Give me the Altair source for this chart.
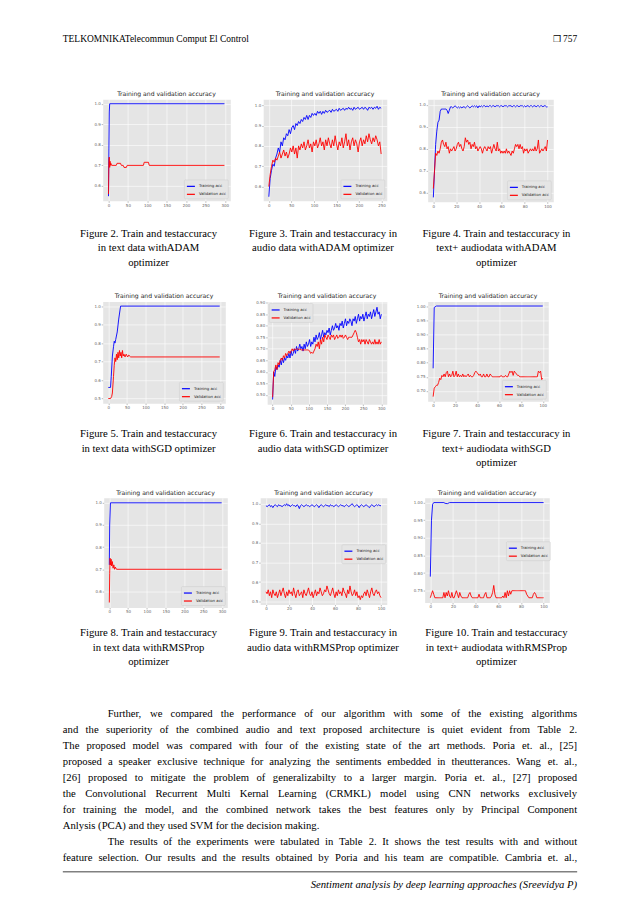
import altair as alt
import pandas as pd

# ------------------------------------------------------------------ data
SERIES = ["Training acc", "Validation acc"]
COLORS = ["#0000FF", "#FF0000"]

# Figure 2: text data, ADAM
fig2_train_epoch = [0, 1, 2, 3, 299]
fig2_train_acc = [0.55, 0.78, 0.96, 1.0, 1.0]
fig2_val_epoch = [0, 1, 2, 3, 4, 5, 6, 8, 20, 22, 31, 33, 38, 40, 46, 48, 90, 92, 103, 105, 299]
fig2_val_acc = [0.56, 0.72, 0.74, 0.69, 0.72, 0.70, 0.71, 0.70, 0.70, 0.71, 0.71, 0.70,
                0.70, 0.69, 0.69, 0.70, 0.70, 0.715, 0.715, 0.70, 0.70]

# Figure 3: audio data, ADAM (every 3rd epoch)
fig3_epoch = list(range(0, 250, 3))
fig3_train_acc = [0.55, 0.64, 0.68, 0.71, 0.70, 0.74, 0.76, 0.79, 0.77, 0.82,
                  0.80, 0.84, 0.83, 0.86, 0.85, 0.88, 0.86, 0.89, 0.90, 0.88,
                  0.91, 0.90, 0.92, 0.91, 0.93, 0.92, 0.94, 0.93, 0.95, 0.93,
                  0.95, 0.94, 0.96, 0.95, 0.96, 0.95, 0.97, 0.96, 0.97, 0.955,
                  0.97, 0.96, 0.975, 0.965, 0.97, 0.975, 0.965, 0.98, 0.97, 0.975,
                  0.98, 0.97, 0.985, 0.975, 0.98, 0.985, 0.975, 0.985, 0.98, 0.99,
                  0.98, 0.985, 0.975, 0.99, 0.98, 0.985, 0.99, 0.98, 0.985, 0.99,
                  0.98, 0.99, 0.985, 0.975, 0.99, 0.985, 0.99, 0.98, 0.99, 0.985,
                  0.995, 0.98, 0.99, 0.985]
fig3_val_acc = [0.60, 0.66, 0.70, 0.73, 0.72, 0.74, 0.73, 0.75, 0.77, 0.74,
                0.76, 0.78, 0.75, 0.77, 0.74, 0.76, 0.79, 0.77, 0.80, 0.76,
                0.79, 0.74, 0.80, 0.78, 0.81, 0.79, 0.82, 0.78, 0.80, 0.83,
                0.79, 0.81, 0.77, 0.82, 0.80, 0.83, 0.79, 0.81, 0.84, 0.80,
                0.82, 0.78, 0.83, 0.80, 0.84, 0.81, 0.79, 0.83, 0.80, 0.85,
                0.81, 0.78, 0.82, 0.80, 0.84, 0.79, 0.82, 0.86, 0.80, 0.83,
                0.78, 0.82, 0.84, 0.80, 0.83, 0.81, 0.77, 0.82, 0.84, 0.80,
                0.83, 0.81, 0.85, 0.82, 0.86, 0.83, 0.81, 0.84, 0.82, 0.85,
                0.83, 0.80, 0.82, 0.76]

# Figure 4: text + audio data, ADAM
fig4_epoch = list(range(0, 101))
fig4_train_acc = [0.58, 0.70, 0.82, 0.88, 0.92, 0.93, 0.97, 0.98, 0.98, 0.98,
                  0.98, 0.98, 0.975, 0.96, 0.975, 0.99, 0.99, 0.985, 0.99, 0.995,
                  0.99, 0.985, 0.99, 0.985, 0.99, 0.985, 0.99, 0.99, 0.985, 0.99,
                  0.995, 0.99, 0.985, 0.99, 0.995, 0.99, 0.995, 0.99, 0.995, 0.985,
                  0.995, 0.99, 0.995, 0.99, 0.995, 0.995, 0.99, 0.995, 0.99, 0.995,
                  0.995, 0.99, 0.995, 0.995, 0.99, 0.995, 0.995, 0.995, 0.99, 0.995,
                  0.995, 0.99, 0.995, 0.995, 0.995, 0.99, 0.995, 0.995, 0.995, 0.99,
                  0.995, 0.995, 0.99, 0.995, 0.995, 0.99, 0.995, 0.995, 0.995, 0.99,
                  0.995, 0.99, 0.995, 0.995, 0.99, 0.995, 0.995, 0.99, 0.995, 0.995,
                  0.99, 0.995, 0.995, 0.99, 0.995, 0.995, 0.99, 0.995, 0.995, 0.99,
                  0.99]
fig4_val_acc = [0.62, 0.70, 0.78, 0.77, 0.79, 0.78, 0.80, 0.83, 0.84, 0.82,
                0.81, 0.83, 0.80, 0.81, 0.78, 0.80, 0.79, 0.80, 0.81, 0.79,
                0.80, 0.82, 0.83, 0.81, 0.82, 0.80, 0.79, 0.81, 0.85, 0.83,
                0.84, 0.82, 0.83, 0.80, 0.82, 0.81, 0.83, 0.80, 0.81, 0.79,
                0.80, 0.81, 0.80, 0.78, 0.80, 0.81, 0.80, 0.79, 0.81, 0.80,
                0.81, 0.78, 0.80, 0.82, 0.80, 0.79, 0.83, 0.79, 0.80, 0.78,
                0.79, 0.78, 0.79, 0.78, 0.80, 0.78, 0.79, 0.78, 0.77, 0.79,
                0.78, 0.80, 0.82, 0.81, 0.82, 0.80, 0.82, 0.80, 0.81, 0.78,
                0.80, 0.79, 0.80, 0.78, 0.79, 0.80, 0.79, 0.80, 0.79, 0.81,
                0.79, 0.80, 0.84, 0.78, 0.79, 0.80, 0.79, 0.80, 0.81, 0.79,
                0.84]

# Figure 5: text data, SGD
fig5_train_epoch = [0, 6, 8, 11, 14, 16, 18, 20, 24, 28, 33, 299]
fig5_train_acc = [0.56, 0.56, 0.62, 0.73, 0.78, 0.81, 0.80, 0.82, 0.86, 0.93, 1.0, 1.0]
fig5_val_epoch = [0, 6, 9, 11, 14, 16, 18, 20, 22, 24, 26, 28, 30, 32, 34, 36, 38, 40,
                  42, 45, 48, 52, 55, 60, 299]
fig5_val_acc = [0.50, 0.50, 0.51, 0.53, 0.62, 0.68, 0.72, 0.70, 0.74, 0.71, 0.75, 0.72,
                0.76, 0.73, 0.75, 0.72, 0.76, 0.73, 0.74, 0.725, 0.74, 0.725, 0.735,
                0.725, 0.725]

# Figure 6: audio data, SGD (every 3rd epoch)
fig6_epoch = list(range(0, 301, 3))
fig6_train_acc = [0.48, 0.60, 0.58, 0.62, 0.61, 0.63, 0.62, 0.65, 0.63, 0.66,
                  0.64, 0.66, 0.65, 0.67, 0.66, 0.68, 0.66, 0.69, 0.67, 0.68,
                  0.70, 0.68, 0.71, 0.69, 0.70, 0.72, 0.70, 0.71, 0.69, 0.72,
                  0.70, 0.73, 0.71, 0.72, 0.74, 0.71, 0.73, 0.72, 0.75, 0.73,
                  0.76, 0.74, 0.75, 0.77, 0.74, 0.76, 0.78, 0.75, 0.77, 0.76,
                  0.78, 0.77, 0.79, 0.76, 0.78, 0.80, 0.78, 0.79, 0.81, 0.79,
                  0.80, 0.78, 0.81, 0.80, 0.82, 0.79, 0.81, 0.83, 0.80, 0.82,
                  0.81, 0.83, 0.82, 0.80, 0.83, 0.82, 0.84, 0.81, 0.83, 0.85,
                  0.82, 0.84, 0.83, 0.85, 0.82, 0.84, 0.86, 0.83, 0.85, 0.84,
                  0.86, 0.83, 0.85, 0.87, 0.84, 0.86, 0.88, 0.85, 0.86, 0.83,
                  0.85]
fig6_val_acc = [0.49, 0.60, 0.61, 0.63, 0.61, 0.64, 0.63, 0.65, 0.66, 0.65,
                0.67, 0.66, 0.68, 0.67, 0.68, 0.69, 0.68, 0.69, 0.70, 0.69,
                0.70, 0.695, 0.70, 0.70, 0.695, 0.70, 0.695, 0.695, 0.695, 0.695,
                0.695, 0.695, 0.695, 0.695, 0.69, 0.68, 0.685, 0.68, 0.69, 0.70,
                0.72, 0.71, 0.73, 0.70, 0.74, 0.72, 0.75, 0.73, 0.76, 0.75,
                0.74, 0.76, 0.75, 0.74, 0.76, 0.75, 0.76, 0.74, 0.75, 0.76,
                0.745, 0.75, 0.76, 0.75, 0.76, 0.745, 0.75, 0.76, 0.75, 0.74,
                0.75, 0.75, 0.75, 0.75, 0.76, 0.77, 0.78, 0.77, 0.75, 0.73,
                0.74, 0.72, 0.74, 0.73, 0.74, 0.72, 0.74, 0.73, 0.72, 0.74,
                0.73, 0.72, 0.73, 0.72, 0.74, 0.72, 0.73, 0.72, 0.74, 0.72,
                0.73]

# Figure 7: text + audio data, SGD
fig7_train_epoch = [0, 1, 3, 100]
fig7_train_acc = [0.78, 0.995, 1.0, 1.0]
fig7_epoch = list(range(0, 101))
fig7_val_acc = [0.68, 0.71, 0.715, 0.72, 0.72, 0.73, 0.745, 0.74, 0.755, 0.75,
                0.76, 0.75, 0.765, 0.77, 0.75, 0.76, 0.75, 0.755, 0.77, 0.75,
                0.755, 0.77, 0.75, 0.76, 0.75, 0.755, 0.75, 0.76, 0.75, 0.755,
                0.75, 0.755, 0.76, 0.75, 0.755, 0.75, 0.75, 0.755, 0.765, 0.77,
                0.765, 0.76, 0.755, 0.76, 0.75, 0.75, 0.76, 0.75, 0.75, 0.76,
                0.75, 0.75, 0.76, 0.755, 0.75, 0.75, 0.75, 0.75, 0.75, 0.75,
                0.75, 0.75, 0.755, 0.75, 0.75, 0.75, 0.755, 0.75, 0.75, 0.76,
                0.77, 0.765, 0.77, 0.755, 0.77, 0.765, 0.76, 0.755, 0.755, 0.75,
                0.75, 0.75, 0.75, 0.75, 0.75, 0.75, 0.75, 0.75, 0.75, 0.75,
                0.75, 0.75, 0.75, 0.75, 0.75, 0.75, 0.77, 0.765, 0.77, 0.74,
                0.745]

# Figure 8: text data, RMSProp
fig8_train_epoch = [0, 1, 3, 299]
fig8_train_acc = [0.72, 0.90, 1.0, 1.0]
fig8_val_epoch = [0, 1, 2, 3, 4, 5, 6, 8, 10, 12, 14, 16, 19, 299]
fig8_val_acc = [0.55, 0.68, 0.75, 0.72, 0.735, 0.745, 0.715, 0.735, 0.705, 0.72, 0.70,
                0.71, 0.70, 0.70]

# Figure 9: audio data, RMSProp
fig9_epoch = list(range(0, 101))
fig9_train_acc = [0.99, 0.985, 0.99, 0.995, 0.985, 0.99, 0.98, 0.99, 0.995, 0.99,
                  0.985, 0.995, 0.99, 0.99, 0.985, 0.99, 0.995, 0.99, 1.0, 0.99,
                  0.995, 0.985, 0.99, 0.995, 0.99, 0.99, 0.985, 0.995, 0.99, 0.975,
                  0.99, 0.995, 0.99, 0.985, 0.99, 0.995, 0.99, 0.99, 0.985, 0.99,
                  0.995, 0.99, 0.985, 0.99, 0.995, 0.99, 0.98, 0.99, 0.995, 0.99,
                  0.985, 0.99, 0.995, 0.99, 0.99, 0.985, 0.995, 0.99, 0.99, 0.985,
                  0.99, 0.995, 0.99, 0.985, 0.99, 0.995, 0.99, 0.99, 0.985, 0.99,
                  0.995, 0.99, 0.985, 0.99, 0.995, 1.0, 0.99, 0.985, 0.99, 0.995,
                  0.99, 0.98, 0.99, 0.995, 0.99, 0.985, 0.99, 0.995, 0.99, 0.985,
                  0.98, 0.99, 0.995, 0.99, 0.985, 0.99, 0.995, 0.99, 0.995, 0.99,
                  0.99]
fig9_val_acc = [0.55, 0.54, 0.56, 0.53, 0.55, 0.52, 0.56, 0.54, 0.53, 0.55,
                0.52, 0.54, 0.56, 0.53, 0.55, 0.57, 0.54, 0.52, 0.55, 0.53,
                0.56, 0.54, 0.55, 0.53, 0.57, 0.54, 0.52, 0.55, 0.56, 0.53,
                0.54, 0.55, 0.52, 0.56, 0.54, 0.53, 0.55, 0.57, 0.54, 0.53,
                0.55, 0.52, 0.54, 0.56, 0.53, 0.55, 0.54, 0.57, 0.55, 0.53,
                0.54, 0.56, 0.55, 0.58, 0.56, 0.54, 0.53, 0.55, 0.57, 0.54,
                0.52, 0.55, 0.53, 0.56, 0.54, 0.55, 0.53, 0.57, 0.55, 0.54,
                0.52, 0.56, 0.54, 0.58, 0.55, 0.53, 0.54, 0.56, 0.53, 0.55,
                0.52, 0.53, 0.51, 0.53, 0.52, 0.54, 0.55, 0.53, 0.56, 0.54,
                0.52, 0.55, 0.57, 0.54, 0.53, 0.55, 0.56, 0.54, 0.55, 0.53,
                0.52]

# Figure 10: text + audio data, RMSProp
fig10_train_epoch = [0, 1, 2, 3, 12, 13, 15, 17, 100]
fig10_train_acc = [0.79, 0.95, 0.995, 1.0, 1.0, 0.998, 0.997, 1.0, 1.0]
fig10_epoch = list(range(0, 101))
fig10_val_acc = [0.73, 0.74, 0.75, 0.74, 0.73, 0.73, 0.73, 0.73, 0.73, 0.73,
                 0.73, 0.73, 0.745, 0.73, 0.745, 0.735, 0.75, 0.735, 0.73, 0.745,
                 0.73, 0.73, 0.74, 0.75, 0.74, 0.73, 0.745, 0.735, 0.73, 0.73,
                 0.73, 0.73, 0.73, 0.73, 0.74, 0.745, 0.735, 0.73, 0.73, 0.73,
                 0.73, 0.73, 0.73, 0.74, 0.73, 0.73, 0.73, 0.73, 0.74, 0.745,
                 0.73, 0.73, 0.73, 0.73, 0.735, 0.745, 0.765, 0.74, 0.73, 0.73,
                 0.73, 0.73, 0.73, 0.73, 0.735, 0.73, 0.745, 0.73, 0.75, 0.735,
                 0.75, 0.74, 0.75, 0.75, 0.75, 0.75, 0.75, 0.75, 0.75, 0.75,
                 0.75, 0.75, 0.75, 0.75, 0.75, 0.74, 0.735, 0.73, 0.73, 0.73,
                 0.73, 0.74, 0.745, 0.74, 0.73, 0.73, 0.73, 0.73, 0.73, 0.73,
                 0.73]

# page text
HEADER_LEFT = "TELKOMNIKATelecommun Comput El Control"
HEADER_RIGHT = "\u2752 757"
CAPTIONS = [
    [["Figure 2. Train and testaccuracy", "in text data withADAM", "optimizer"],
     ["Figure 3. Train and testaccuracy in", "audio data withADAM optimizer"],
     ["Figure 4. Train and testaccuracy in", "text+ audiodata withADAM", "optimizer"]],
    [["Figure 5. Train and testaccuracy", "in text data withSGD optimizer"],
     ["Figure 6. Train and testaccuracy in", "audio data withSGD optimizer"],
     ["Figure 7. Train and testaccuracy in", "text+ audiodata withSGD", "optimizer"]],
    [["Figure 8. Train and testaccuracy", "in text data withRMSProp", "optimizer"],
     ["Figure 9. Train and testaccuracy in", "audio data withRMSProp optimizer"],
     ["Figure 10. Train and testaccuracy", "in text+ audiodata withRMSProp", "optimizer"]],
]
PARAGRAPH = [
    ("Further, we compared the performance of our algorithm with some of the existing algorithms", True, True),
    ("and the superiority of the combined audio and text proposed architecture is quiet evident from Table 2.", False, True),
    ("The proposed model was compared with four of the existing state of the art methods. Poria et. al., [25]", False, True),
    ("proposed a speaker exclusive technique for analyzing the sentiments embedded in theutterances. Wang et. al.,", False, True),
    ("[26] proposed to mitigate the problem of generalizabilty to a larger margin. Poria et. al., [27] proposed", False, True),
    ("the Convolutional Recurrent Multi Kernal Learning (CRMKL) model using CNN networks exclusively", False, True),
    ("for training the model, and the combined network takes the best features only by Principal Component", False, True),
    ("Anlysis (PCA) and they used SVM for the decision making.", False, False),
    ("The results of the experiments were tabulated in Table 2. It shows the test results with and without", True, True),
    ("feature selection. Our results and the results obtained by Poria and his team are compatible. Cambria et. al.,", False, True),
]
FOOTER = "Sentiment analysis by deep learning approaches (Sreevidya P)"

# ------------------------------------------------------------------ helpers
SERIF = "Liberation Serif"
SANS = "DejaVu Sans"
FS = 10.7

_W = dict(zip("abcdefghijklmnopqrstuvwxyz",
              [444, 500, 444, 500, 444, 333, 500, 500, 278, 278, 500, 278, 778,
               500, 500, 500, 500, 333, 389, 278, 500, 500, 722, 500, 500, 444]))
_W.update(dict(zip("ABCDEFGHIJKLMNOPQRSTUVWXYZ",
                   [722, 667, 667, 722, 611, 556, 722, 722, 333, 389, 722, 611, 889,
                    722, 722, 556, 722, 667, 556, 611, 722, 722, 944, 722, 722, 611])))
_W.update({" ": 250, ".": 250, ",": 250, "(": 333, ")": 333, "[": 333, "]": 333,
           "+": 564, "-": 333, ":": 278, ";": 278})
for _d in "0123456789":
    _W[_d] = 500


def tw(s, size):
    return sum(_W.get(c, 500) for c in s) * size / 1000.0


def para_df(lines, x0, x1, indent, y0, dy, size):
    rows = []
    for i, (line, ind, just) in enumerate(lines):
        words = line.split(" ")
        ws = [tw(w, size) for w in words]
        start = x0 + (indent if ind else 0)
        if just and len(words) > 1:
            gap = (x1 - start - sum(ws)) / (len(words) - 1)
        else:
            gap = tw(" ", size)
        x = start
        for w, wd in zip(words, ws):
            rows.append({"x": x, "y": y0 + i * dy, "t": w})
            x += wd + gap
    return pd.DataFrame(rows)


def txt(df, align, size=FS, style="normal", font=SERIF, color="black"):
    return alt.Chart(df).mark_text(align=align, baseline="middle", font=font,
                                   fontSize=size, fontStyle=style, color=color).encode(
        x=alt.X("x:Q", scale=None, axis=None),
        y=alt.Y("y:Q", scale=None, axis=None),
        text="t:N")


def caption_df(caps, centers, y0, dy):
    rows = []
    for cap, cx in zip(caps, centers):
        for i, line in enumerate(cap):
            rows.append({"x": cx, "y": y0 + i * dy, "t": line})
    return pd.DataFrame(rows)


def spacer(w, h):
    return alt.Chart(pd.DataFrame({"s": [0]})).mark_point(opacity=0).properties(width=w, height=h)


def acc_chart(tx, ty, vx, vy, xdom, xticks, ydom, yticks, yfmt, w, h, legend):
    df = pd.concat([
        pd.DataFrame({"epoch": tx, "acc": ty, "series": SERIES[0]}),
        pd.DataFrame({"epoch": vx, "acc": vy, "series": SERIES[1]}),
    ], ignore_index=True)
    return alt.Chart(df, title=alt.TitleParams(
        "Training and validation accuracy", font=SANS, fontSize=6.1, fontWeight="normal",
        color="#222222", offset=2, anchor="middle", frame="group")).mark_line(
        strokeWidth=0.9, clip=True).encode(
        x=alt.X("epoch:Q", scale=alt.Scale(domain=xdom, nice=False, zero=False),
                axis=alt.Axis(values=xticks, format="d", title=None, labelFlush=False,
                              labelOverlap=False)),
        y=alt.Y("acc:Q", scale=alt.Scale(domain=ydom, nice=False, zero=False),
                axis=alt.Axis(values=yticks, format=yfmt, title=None, labelOverlap=False)),
        color=alt.Color("series:N", scale=alt.Scale(domain=SERIES, range=COLORS), legend=legend),
    ).properties(width=w, height=h,
                 view=alt.ViewBackground(fill="#E5E5E5", stroke="transparent"))


def leg(orient, **kw):
    return alt.Legend(title=None, orient=orient, **kw)


def indep(c):
    return c.resolve_scale(color="independent").resolve_legend(color="independent")


def hrow(*items):
    return indep(alt.hconcat(*items, spacing=0, bounds="flush"))


X300 = [0, 50, 100, 150, 200, 250, 300]
X250 = [0, 50, 100, 150, 200, 250]
X100 = [0, 20, 40, 60, 80, 100]
Y_A = [0.6, 0.7, 0.8, 0.9, 1.0]
Y_B = [0.5, 0.6, 0.7, 0.8, 0.9, 1.0]

fig2 = acc_chart(fig2_train_epoch, fig2_train_acc, fig2_val_epoch, fig2_val_acc,
                 [-15, 314], X300, [0.5275, 1.0225], Y_A, ".1f", 128, 102,
                 leg("bottom-right", offset=2))
fig3 = acc_chart(fig3_epoch, fig3_train_acc, fig3_epoch, fig3_val_acc,
                 [-12.5, 261.5], X250, [0.53, 1.03], Y_A, ".1f", 124, 102,
                 leg("bottom-right", offset=2))
fig4 = acc_chart(fig4_epoch, fig4_train_acc, fig4_epoch, fig4_val_acc,
                 [-5, 105], X100, [0.56, 1.025], Y_A, ".1f", 126, 103,
                 leg("bottom-right", offset=2))
fig5 = acc_chart(fig5_train_epoch, fig5_train_acc, fig5_val_epoch, fig5_val_acc,
                 [-15, 314], X300, [0.475, 1.025], Y_B, ".1f", 123, 102,
                 leg("bottom-right", offset=2))
fig6 = acc_chart(fig6_epoch, fig6_train_acc, fig6_epoch, fig6_val_acc,
                 [-15, 315], X300, [0.46, 0.905],
                 [0.50, 0.55, 0.60, 0.65, 0.70, 0.75, 0.80, 0.85, 0.90], ".2f", 120, 103,
                 leg("top-left", offset=2))
fig7 = acc_chart(fig7_train_epoch, fig7_train_acc, fig7_epoch, fig7_val_acc,
                 [-5, 105], X100, [0.664, 1.016],
                 [0.70, 0.75, 0.80, 0.85, 0.90, 0.95, 1.00], ".2f", 121, 100,
                 leg("bottom-right", offset=2))
fig8 = acc_chart(fig8_train_epoch, fig8_train_acc, fig8_val_epoch, fig8_val_acc,
                 [-15, 314], X300, [0.5275, 1.0225], Y_A, ".1f", 124, 110,
                 leg("bottom-right", offset=2))
fig9 = acc_chart(fig9_epoch, fig9_train_acc, fig9_epoch, fig9_val_acc,
                 [-5, 105], X100, [0.485, 1.03], Y_B, ".1f", 127, 107,
                 leg("none", legendX=82, legendY=47))
fig10 = acc_chart(fig10_train_epoch, fig10_train_acc, fig10_epoch, fig10_val_acc,
                  [-5, 105], X100, [0.7165, 1.0135],
                  [0.75, 0.80, 0.85, 0.90, 0.95, 1.00], ".2f", 125, 105,
                  leg("none", legendX=82, legendY=44))

PAGE_W = 622
CENTERS = [140, 315, 489]
T = 11  # height of the chart titles above the plot areas

# header block
r0 = alt.layer(
    txt(pd.DataFrame({"x": [54], "y": [29], "t": [HEADER_LEFT]}), "left", size=9.5),
    txt(pd.DataFrame({"x": [570], "y": [29], "t": [HEADER_RIGHT]}), "right", size=9.5),
).properties(width=PAGE_W, height=90 - T)

row1 = hrow(spacer(94, 117), fig2, spacer(33, 1), fig3, spacer(41, 1), fig4)
r2 = txt(caption_df(CAPTIONS[0], CENTERS, 17, 14.5), "center").properties(
    width=PAGE_W, height=85 - T)
row2 = hrow(spacer(94, 115), fig5, spacer(42, 1), fig6, spacer(41, 1), fig7)
r4 = txt(caption_df(CAPTIONS[1], CENTERS, 17, 14.5), "center").properties(
    width=PAGE_W, height=82 - T)
row3 = hrow(spacer(95, 123), fig8, spacer(33, 1), fig9, spacer(38, 1), fig10)

para = para_df(PARAGRAPH, 54, 570, 45, 93, 16, FS)
r6 = alt.layer(
    txt(caption_df(CAPTIONS[2], CENTERS, 12, 14.5), "center"),
    txt(para, "left"),
    alt.Chart(pd.DataFrame({"s": [0]})).mark_rule(color="#808080", strokeWidth=1.5).encode(
        x=alt.value(54), x2=alt.value(570), y=alt.value(251)),
    txt(pd.DataFrame({"x": [570], "y": [264], "t": [FOOTER]}), "right", style="italic"),
).properties(width=PAGE_W, height=274)

chart = indep(alt.vconcat(r0, row1, r2, row2, r4, row3, r6, spacing=0, bounds="full")).properties(
    padding=0).configure_view(
    stroke="transparent"
).configure_axis(
    labelFont=SANS, labelFontSize=4, labelColor="#666666", grid=True, gridColor="#FFFFFF",
    gridWidth=0.6, domain=False, ticks=True, tickColor="#777777", tickSize=1.5,
    tickWidth=0.5, labelPadding=1
).configure_legend(
    labelFont=SANS, labelFontSize=3.9, labelColor="#222222", symbolType="stroke",
    symbolSize=64, symbolStrokeWidth=1.2, rowPadding=0, padding=1.5, fillColor="#E5E5E5",
    strokeColor="#CCCCCC", strokeWidth=0.5, cornerRadius=1, labelOffset=3
)

chart.save("out.html", embed_options={"renderer": "svg", "actions": False})
